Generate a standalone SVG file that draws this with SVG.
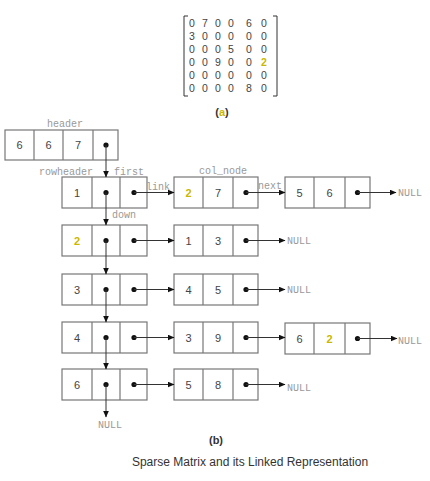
<svg xmlns="http://www.w3.org/2000/svg" width="430" height="481" viewBox="0 0 430 481">
<style>
.box{fill:#fff;stroke:#777;stroke-width:1.2}
.div{stroke:#777;stroke-width:1.2}
.v{font-family:"Liberation Sans",Arial,sans-serif;font-size:11px;fill:#444;text-anchor:middle;dominant-baseline:central}
.hl{fill:#c9b800}
.m{font-family:"Liberation Sans",Arial,sans-serif;font-size:10.5px;fill:#444;text-anchor:middle;dominant-baseline:central}
.lbl{font-family:"Liberation Mono","Courier New",monospace;font-size:10px;fill:#999;dominant-baseline:central}
.cap{font-family:"Liberation Sans",Arial,sans-serif;fill:#333;text-anchor:middle;dominant-baseline:central}
.ln{stroke:#333;stroke-width:1;fill:none}
.dot{fill:#111}
</style>
<defs>
<marker id="ah" markerWidth="7" markerHeight="6" refX="6.5" refY="3" orient="auto" markerUnits="userSpaceOnUse">
<path d="M0,0 L7,3 L0,6 Z" fill="#111"/>
</marker>
</defs>

<g id="matrix">
<path class="ln" d="M188,16 H184 V96 H188 M273,16 H277 V96 H273" stroke="#555"/>
<g class="m">
<text x="192" y="23">0</text><text x="205" y="23">7</text><text x="218" y="23">0</text><text x="231" y="23">0</text><text x="249" y="23">6</text><text x="264" y="23">0</text>
<text x="192" y="36">3</text><text x="205" y="36">0</text><text x="218" y="36">0</text><text x="231" y="36">0</text><text x="249" y="36">0</text><text x="264" y="36">0</text>
<text x="192" y="49">0</text><text x="205" y="49">0</text><text x="218" y="49">0</text><text x="231" y="49">5</text><text x="249" y="49">0</text><text x="264" y="49">0</text>
<text x="192" y="62">0</text><text x="205" y="62">0</text><text x="218" y="62">9</text><text x="231" y="62">0</text><text x="249" y="62">0</text><text x="264" y="62" class="hl" font-weight="bold">2</text>
<text x="192" y="75">0</text><text x="205" y="75">0</text><text x="218" y="75">0</text><text x="231" y="75">0</text><text x="249" y="75">0</text><text x="264" y="75">0</text>
<text x="192" y="88">0</text><text x="205" y="88">0</text><text x="218" y="88">0</text><text x="231" y="88">0</text><text x="249" y="88">8</text><text x="264" y="88">0</text>
</g>
<text class="cap" x="222" y="112" font-size="11" font-weight="bold">(<tspan fill="#c9b800">a</tspan>)</text>
</g>

<g id="header">
<text class="lbl" x="65" y="124" text-anchor="middle">header</text>
<rect class="box" x="5" y="130" width="113" height="30"/>
<path class="div" d="M34,130 V160 M63,130 V160 M93,130 V160"/>
<text class="v" x="19.5" y="145">6</text><text class="v" x="48.5" y="145">6</text><text class="v" x="78" y="145">7</text>
<circle class="dot" cx="106" cy="145" r="2.6"/>
</g>

<g id="row1">
<rect class="box" x="62" y="177" width="85" height="31"/>
<path class="div" d="M92,177 V208 M120,177 V208"/>
<text class="v" x="77" y="192.5">1</text>
<circle class="dot" cx="106" cy="192.5" r="2.6"/><circle class="dot" cx="134" cy="192.5" r="2.6"/>
</g>
<g id="row2">
<rect class="box" x="62" y="225" width="85" height="31"/>
<path class="div" d="M92,225 V256 M120,225 V256"/>
<text class="v hl" x="77" y="240.5" font-weight="bold">2</text>
<circle class="dot" cx="106" cy="240.5" r="2.6"/><circle class="dot" cx="134" cy="240.5" r="2.6"/>
</g>
<g id="row3">
<rect class="box" x="62" y="274" width="85" height="31"/>
<path class="div" d="M92,274 V305 M120,274 V305"/>
<text class="v" x="77" y="289.5">3</text>
<circle class="dot" cx="106" cy="289.5" r="2.6"/><circle class="dot" cx="134" cy="289.5" r="2.6"/>
</g>
<g id="row4">
<rect class="box" x="62" y="322" width="85" height="31"/>
<path class="div" d="M92,322 V353 M120,322 V353"/>
<text class="v" x="77" y="337.5">4</text>
<circle class="dot" cx="106" cy="337.5" r="2.6"/><circle class="dot" cx="134" cy="337.5" r="2.6"/>
</g>
<g id="row5">
<rect class="box" x="62" y="369" width="85" height="31"/>
<path class="div" d="M92,369 V400 M120,369 V400"/>
<text class="v" x="77" y="384.5">6</text>
<circle class="dot" cx="106" cy="384.5" r="2.6"/><circle class="dot" cx="134" cy="384.5" r="2.6"/>
</g>

<g id="n27">
<text class="lbl" x="223" y="171" text-anchor="middle">col_node</text>
<rect class="box" x="174" y="177" width="84" height="31"/>
<path class="div" d="M203,177 V208 M233,177 V208"/>
<text class="v hl" x="188.5" y="192.5" font-weight="bold">2</text><text class="v" x="218" y="192.5">7</text>
<circle class="dot" cx="246" cy="192.5" r="2.6"/>
</g>
<g id="n56">
<rect class="box" x="285" y="177" width="85" height="31"/>
<path class="div" d="M314,177 V208 M345,177 V208"/>
<text class="v" x="299.5" y="192.5">5</text><text class="v" x="329.5" y="192.5">6</text>
<circle class="dot" cx="357.5" cy="192.5" r="2.6"/>
</g>
<g id="n13">
<rect class="box" x="174" y="225" width="84" height="31"/>
<path class="div" d="M203,225 V256 M233,225 V256"/>
<text class="v" x="188.5" y="240.5">1</text><text class="v" x="218" y="240.5">3</text>
<circle class="dot" cx="246" cy="240.5" r="2.6"/>
</g>
<g id="n45">
<rect class="box" x="174" y="274" width="84" height="31"/>
<path class="div" d="M203,274 V305 M233,274 V305"/>
<text class="v" x="188.5" y="289.5">4</text><text class="v" x="218" y="289.5">5</text>
<circle class="dot" cx="246" cy="289.5" r="2.6"/>
</g>
<g id="n39">
<rect class="box" x="174" y="322" width="84" height="31"/>
<path class="div" d="M203,322 V353 M233,322 V353"/>
<text class="v" x="188.5" y="337.5">3</text><text class="v" x="218" y="337.5">9</text>
<circle class="dot" cx="246" cy="337.5" r="2.6"/>
</g>
<g id="n62">
<rect class="box" x="285" y="323" width="85" height="31"/>
<path class="div" d="M314,323 V354 M345,323 V354"/>
<text class="v" x="299.5" y="338.5">6</text><text class="v hl" x="329.5" y="338.5" font-weight="bold">2</text>
<circle class="dot" cx="357.5" cy="338.5" r="2.6"/>
</g>
<g id="n58">
<rect class="box" x="174" y="369" width="84" height="31"/>
<path class="div" d="M203,369 V400 M233,369 V400"/>
<text class="v" x="188.5" y="384.5">5</text><text class="v" x="218" y="384.5">8</text>
<circle class="dot" cx="246" cy="384.5" r="2.6"/>
</g>

<g id="connectors">
<path class="ln" d="M106,145 V177" marker-end="url(#ah)"/>
<path class="ln" d="M106,192.5 V225" marker-end="url(#ah)"/>
<path class="ln" d="M106,240.5 V274" marker-end="url(#ah)"/>
<path class="ln" d="M106,289.5 V322" marker-end="url(#ah)"/>
<path class="ln" d="M106,337.5 V369" marker-end="url(#ah)"/>
<path class="ln" d="M106,384.5 V417" marker-end="url(#ah)"/>
<path class="ln" d="M134,192.5 H174" marker-end="url(#ah)"/>
<path class="ln" d="M246,192.5 H285" marker-end="url(#ah)"/>
<path class="ln" d="M357.5,192.5 H396" marker-end="url(#ah)"/>
<path class="ln" d="M134,240.5 H174" marker-end="url(#ah)"/>
<path class="ln" d="M246,240.5 H285" marker-end="url(#ah)"/>
<path class="ln" d="M134,289.5 H174" marker-end="url(#ah)"/>
<path class="ln" d="M246,289.5 H285" marker-end="url(#ah)"/>
<path class="ln" d="M134,337.5 H174" marker-end="url(#ah)"/>
<path class="ln" d="M246,337.5 H285" marker-end="url(#ah)"/>
<path class="ln" d="M357.5,338.5 H397" marker-end="url(#ah)"/>
<path class="ln" d="M134,384.5 H174" marker-end="url(#ah)"/>
<path class="ln" d="M246,384.5 H285" marker-end="url(#ah)"/>
</g>

<g id="labels">
<text class="lbl" x="39" y="172">rowheader</text>
<text class="lbl" x="114" y="172">first</text>
<text class="lbl" x="112" y="215">down</text>
<text class="lbl" x="146" y="187">link</text>
<text class="lbl" x="258" y="186">next</text>
<text class="lbl" x="398" y="193">NULL</text>
<text class="lbl" x="287" y="241">NULL</text>
<text class="lbl" x="287" y="290">NULL</text>
<text class="lbl" x="398" y="341">NULL</text>
<text class="lbl" x="287" y="388">NULL</text>
<text class="lbl" x="110" y="425" text-anchor="middle">NULL</text>
</g>

<text class="cap" x="216" y="440" font-size="11" font-weight="bold">(b)</text>
<text class="cap" x="250" y="462" font-size="12">Sparse Matrix and its Linked Representation</text>
</svg>
